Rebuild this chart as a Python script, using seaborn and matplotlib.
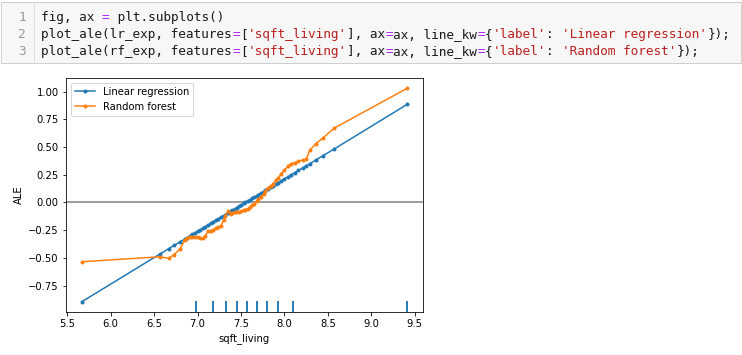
import matplotlib
matplotlib.use("Agg")
import matplotlib.pyplot as plt
import matplotlib.transforms as mtransforms
from matplotlib.patches import Rectangle
from matplotlib.lines import Line2D
import seaborn as sns

# ---------------- data ----------------
feature_values = [5.67, 6.57, 6.67, 6.73, 6.80, 6.85, 6.88, 6.91, 6.94, 6.97,
                  7.00, 7.03, 7.06, 7.09, 7.12, 7.15, 7.18, 7.21, 7.24, 7.27,
                  7.30, 7.32, 7.35, 7.38, 7.40, 7.43, 7.45, 7.48, 7.50, 7.53,
                  7.55, 7.58, 7.60, 7.63, 7.65, 7.68, 7.70, 7.73, 7.76, 7.78,
                  7.81, 7.84, 7.87, 7.90, 7.93, 7.96, 8.00, 8.04, 8.08, 8.12,
                  8.16, 8.21, 8.25, 8.29, 8.36, 8.44, 8.57, 9.41]

lr_ale = [-0.895, -0.464, -0.416, -0.388, -0.355, -0.331, -0.317, -0.303, -0.289, -0.274,
          -0.260, -0.246, -0.232, -0.218, -0.203, -0.189, -0.175, -0.161, -0.147, -0.132,
          -0.118, -0.109, -0.095, -0.080, -0.071, -0.057, -0.047, -0.033, -0.024, -0.009,
          0.000, 0.014, 0.024, 0.038, 0.047, 0.061, 0.071, 0.085, 0.099, 0.109,
          0.123, 0.137, 0.151, 0.166, 0.180, 0.194, 0.213, 0.232, 0.251, 0.270,
          0.289, 0.312, 0.331, 0.350, 0.383, 0.421, 0.482, 0.885]

rf_ale = [-0.535, -0.490, -0.505, -0.470, -0.420, -0.340, -0.320, -0.310, -0.315, -0.310,
          -0.310, -0.320, -0.325, -0.300, -0.260, -0.255, -0.250, -0.230, -0.225, -0.210,
          -0.160, -0.120, -0.075, -0.100, -0.095, -0.090, -0.090, -0.085, -0.080, -0.070,
          -0.065, -0.055, -0.045, -0.025, -0.015, 0.010, 0.030, 0.045, 0.075, 0.100,
          0.135, 0.150, 0.170, 0.200, 0.220, 0.260, 0.290, 0.330, 0.350, 0.360,
          0.370, 0.385, 0.390, 0.470, 0.530, 0.580, 0.670, 1.030]

deciles = [6.98, 7.18, 7.33, 7.45, 7.57, 7.68, 7.80, 7.93, 8.10, 9.41]

series_labels = ["Linear regression", "Random forest"]
x_label = "sqft_living"
y_label = "ALE"

code_lines = [
    [("fig, ax ", "k"), ("=", "op"), (" plt.subplots()", "k")],
    [("plot_ale(lr_exp, features", "k"), ("=", "op"), ("[", "k"), ("'sqft_living'", "s"),
     ("], ax", "k"), ("=", "op"), ("ax, line_kw", "k"), ("=", "op"), ("{", "k"),
     ("'label'", "s"), (": ", "k"), ("'Linear regression'", "s"), ("});", "k")],
    [("plot_ale(rf_exp, features", "k"), ("=", "op"), ("[", "k"), ("'sqft_living'", "s"),
     ("], ax", "k"), ("=", "op"), ("ax, line_kw", "k"), ("=", "op"), ("{", "k"),
     ("'label'", "s"), (": ", "k"), ("'Random forest'", "s"), ("});", "k")],
]

# ---------------- figure ----------------
W, H, DPI = 742, 355, 72
fig = plt.figure(figsize=(W / DPI, H / DPI), dpi=DPI)
fig.patch.set_facecolor("white")


def px(x, y):
    return x / W, 1 - y / H


# code cell box
x0, y0 = px(1, 2)
x1, y1 = px(741, 63)
fig.add_artist(Rectangle((x0, y1), x1 - x0, y0 - y1, transform=fig.transFigure,
                         facecolor="#f7f7f7", edgecolor="#cfcfcf", linewidth=1))
gx, gy0 = px(34, 2)
_, gy1 = px(34, 63)
fig.add_artist(Line2D([gx, gx], [gy0, gy1], transform=fig.transFigure,
                      color="#dddddd", linewidth=1))

colors = {"k": "#1a1a1a", "op": "#aa22ff", "s": "#ba2121"}
baselines = [20.7, 37.9, 55.1]
char_w = 7.66
code_fs = char_w / 0.602
code_x0 = 40.7
for i, toks in enumerate(code_lines):
    bx, by = px(26, baselines[i])
    fig.text(bx, by, str(i + 1), ha="right", va="baseline", color="#999999",
             family="DejaVu Sans Mono", fontsize=code_fs)
    col = 0
    for txt, c in toks:
        tx, ty = px(code_x0 + col * char_w, baselines[i])
        fig.text(tx, ty, txt, ha="left", va="baseline", color=colors[c],
                 family="DejaVu Sans Mono", fontsize=code_fs)
        col += len(txt)

# axes
left, right, top, bottom = 65.7, 423.3, 77.7, 312.3
ax = fig.add_axes([left / W, 1 - bottom / H, (right - left) / W, (bottom - top) / H])

ax.axhline(0, color="grey", linewidth=1.5, zorder=1)
for yvals, lab, col in [(lr_ale, series_labels[0], "C0"), (rf_ale, series_labels[1], "C1")]:
    sns.lineplot(x=feature_values, y=yvals, ax=ax, marker="o", markersize=3,
                 color=col, markeredgecolor=col, markeredgewidth=1,
                 linewidth=1.5, sort=False, estimator=None, label=lab)
    trans = mtransforms.blended_transform_factory(ax.transData, ax.transAxes)
    ax.vlines(deciles, 0, 0.05, transform=trans, colors="C0", linewidth=1.5)

ax.set_xlabel(x_label)
ax.set_ylabel(y_label)
ax.legend(loc="upper left")

fig.savefig("out.png", dpi=DPI)
